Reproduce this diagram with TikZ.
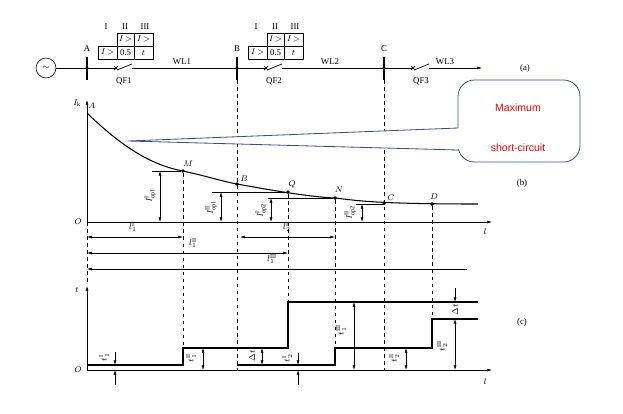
\documentclass[tikz,border=0pt]{standalone}
\usepackage{fontspec}
\setmainfont{Liberation Serif}
\usetikzlibrary{arrows.meta}
\begin{document}
\begin{tikzpicture}[x=0.03cm,y=-0.03cm,font=\fontsize{7.5}{8}\selectfont,
  thin line/.style={line width=0.5pt},
  thick line/.style={line width=1pt},
  dash line/.style={dashed,line width=0.5pt},
  dim/.style={line width=0.5pt,{Latex[length=4pt,width=2.5pt]}-{Latex[length=4pt,width=2.5pt]}},
  dimr/.style={line width=0.5pt,-{Latex[length=4pt,width=2.5pt]}},
  dot/.style={circle,fill,inner sep=1.2pt}]
\useasboundingbox (0,0) rectangle (623,413);
% ---- (a) single line diagram
\node[draw,circle,minimum size=17pt,inner sep=0pt,thin line] (src) at (46,68) {$\sim$};
\coordinate (aend) at (482,68);
\draw[thin line,-{Latex[length=4pt,width=2.5pt]}] (src) -- (aend);
\foreach \x/\n in {87/A,237/B,384/C}{
  \draw[line width=1.3pt] (\x,57) -- (\x,80);
  \node[dot,inner sep=1pt] at (\x,68) {};
  \node at (\x,49) {\n};
}
\foreach \x/\n in {116/QF1,266/QF2,413/QF3}{
  \fill[white] (\x+1,66) rectangle (\x+16,70);
  \draw[line width=0.6pt] (\x+1,70) -- (\x+16,64);
  \draw[line width=0.6pt] (\x-2,66) -- (\x+2,70) (\x-2,70) -- (\x+2,66);
  \node at (\x+8,81) {\n};
}
\foreach \dx in {0,150}{
  \begin{scope}[xshift=\dx*0.03cm]
  \node at (106,27) {I}; \node at (125,27) {II}; \node at (145,27) {III};
  \draw[line width=0.4pt] (117,33) rectangle (134,46) (134,33) rectangle (153,46)
     (98,46) rectangle (117,59) (117,46) rectangle (134,59) (134,46) rectangle (153,59);
  \node at (125.5,39.5) {$I\!>$}; \node at (143.5,39.5) {$I\!>$};
  \node at (107.5,52.5) {$I\!>$}; \node at (125.5,52.5) {0.5}; \node at (143.5,52.5) {$t$};
  \end{scope}
}
\node at (182,62) {WL1}; \node at (330,62) {WL2}; \node at (445,62) {WL3};
\node at (525,68) {(a)};
% ---- (b)
\draw[thin line,-{Latex[length=4pt,width=2.5pt]}] (87,222) -- (87,100);
\draw[thin line,-{Latex[length=4pt,width=2.5pt]}] (87,222) -- (492,222);
\node at (77,103) {$I_{\mathrm{k}}$};
\node at (78,222) {$O$};
\node at (485,232) {$l$};
\draw[line width=0.9pt] (87,113) .. controls (120,145) and (150,165) .. (183,171)
  .. controls (210,177) and (225,182) .. (237,184)
  .. controls (270,190) and (310,197) .. (335,198)
  .. controls (360,201) and (380,204) .. (478,204);
\foreach \x/\y/\n/\dx/\dy in {183/171/M/5/-7, 237/184/B/7/-5, 288/192/Q/4/-8, 335/198/N/4/-8, 384/203/C/7/-5, 432/204/D/2/-7}{
  \node[dot] (p\n) at (\x,\y) {};
  \node at (\x+\dx,\y+\dy) {$\n$};
}
\node at (92,106) {$A$};
% dashed verticals
\draw[dash line] (87,222) -- (87,282);
\draw[dash line] (pM) -- (183,348);
\draw[dash line] (237,80) -- (237,370);
\draw[dash line] (pQ) -- (288,302);
\draw[dash line] (pN) -- (335,348);
\draw[dash line] (384,80) -- (384,370);
\draw[dash line] (pD) -- (432,319);
% Iop levels
\draw[thin line] (152,171) -- (pM);
\draw[thin line] (212,192) -- (pQ);
\draw[thin line] (268,198) -- (pN);
\draw[thin line] (356,204) -- (384,204);
\draw[dim] (160,171) -- (160,222); \node[rotate=90] at (150,196) {$I^{\mathrm{I}}_{\mathrm{op1}}$};
\draw[dim] (221,192) -- (221,222); \node[rotate=90] at (211,208) {$I^{\mathrm{II}}_{\mathrm{op1}}$};
\draw[dim] (271,198) -- (271,222); \node[rotate=90] at (261,211) {$I^{\mathrm{I}}_{\mathrm{op2}}$};
\draw[dim] (362,204) -- (362,222); \node[rotate=90] at (350,213) {$I^{\mathrm{II}}_{\mathrm{op2}}$};
% lengths
\draw[dim] (87,237) -- (183,237); \node at (133,227) {$l^{\mathrm{I}}_{1}$};
\draw[dim] (240,237) -- (335,237); \node at (287,227) {$l^{\mathrm{I}}_{2}$};
\draw[dim] (87,253) -- (288,253); \node at (193,243) {$l^{\mathrm{II}}_{1}$};
\draw[thin line,{Latex[length=4pt,width=2.5pt]}-] (87,269) -- (467,269); \node at (272,259) {$l^{\mathrm{III}}_{1}$};
\node at (522,183) {(b)};
% callout
\draw[line width=0.7pt,draw={rgb,255:red,60;green,80;blue,130},fill=white,rounded corners=14pt]
  (458,128) -- (458,80) -- (580,80) -- (580,162) -- (458,162) -- (458,150);
\draw[line width=0.7pt,draw={rgb,255:red,60;green,80;blue,130},fill=white]
  (458,128) -- (128,141) -- (458,150);
\fill[white] (457.3,128.6) rectangle (459,149.4);
\node[text=red,font=\fontspec{Liberation Sans}\fontsize{9}{10}\selectfont] at (518,108) {Maximum};
\node[text=red,font=\fontspec{Liberation Sans}\fontsize{9}{10}\selectfont] at (518,148) {short-circuit};
% ---- (c)
\draw[thin line,-{Latex[length=4pt,width=2.5pt]}] (87,370) -- (87,286);
\draw[thin line,-{Latex[length=4pt,width=2.5pt]}] (87,370) -- (492,370);
\node at (77,290) {$t$};
\node at (78,370) {$O$};
\node at (485,382) {$l$};
\draw[line width=0.9pt] (87,365) -- (183,365) -- (183,348) -- (288,348) -- (288,302) -- (478,302);
\draw[line width=0.9pt] (237,365) -- (335,365) -- (335,348) -- (432,348) -- (432,319) -- (478,319);
\draw[dimr] (115,352) -- (115,365); \draw[dimr] (115,385) -- (115,370);
\node[rotate=90] at (104,357) {$t^{\mathrm{I}}_{1}$};
\draw[dim] (203,348) -- (203,370); \node[rotate=90] at (191,358) {$t^{\mathrm{II}}_{1}$};
\draw[dim] (262,348) -- (262,365); \node[rotate=90] at (252,356) {$\Delta t$};
\draw[dimr] (298,353) -- (298,365); \draw[dimr] (298,385) -- (298,370);
\node[rotate=90] at (287,358) {$t^{\mathrm{I}}_{2}$};
\draw[dim] (354,302) -- (354,370); \node[rotate=90] at (341,330) {$t^{\mathrm{III}}_{1}$};
\draw[dim] (406,348) -- (406,370); \node[rotate=90] at (394,358) {$t^{\mathrm{II}}_{2}$};
\draw[dim] (455,319) -- (455,370); \node[rotate=90] at (442,346) {$t^{\mathrm{III}}_{2}$};
\draw[dimr] (455,288) -- (455,302); \node[rotate=90] at (455,310) {$\Delta t$};
\node at (522,322) {(c)};
\end{tikzpicture}
\end{document}
